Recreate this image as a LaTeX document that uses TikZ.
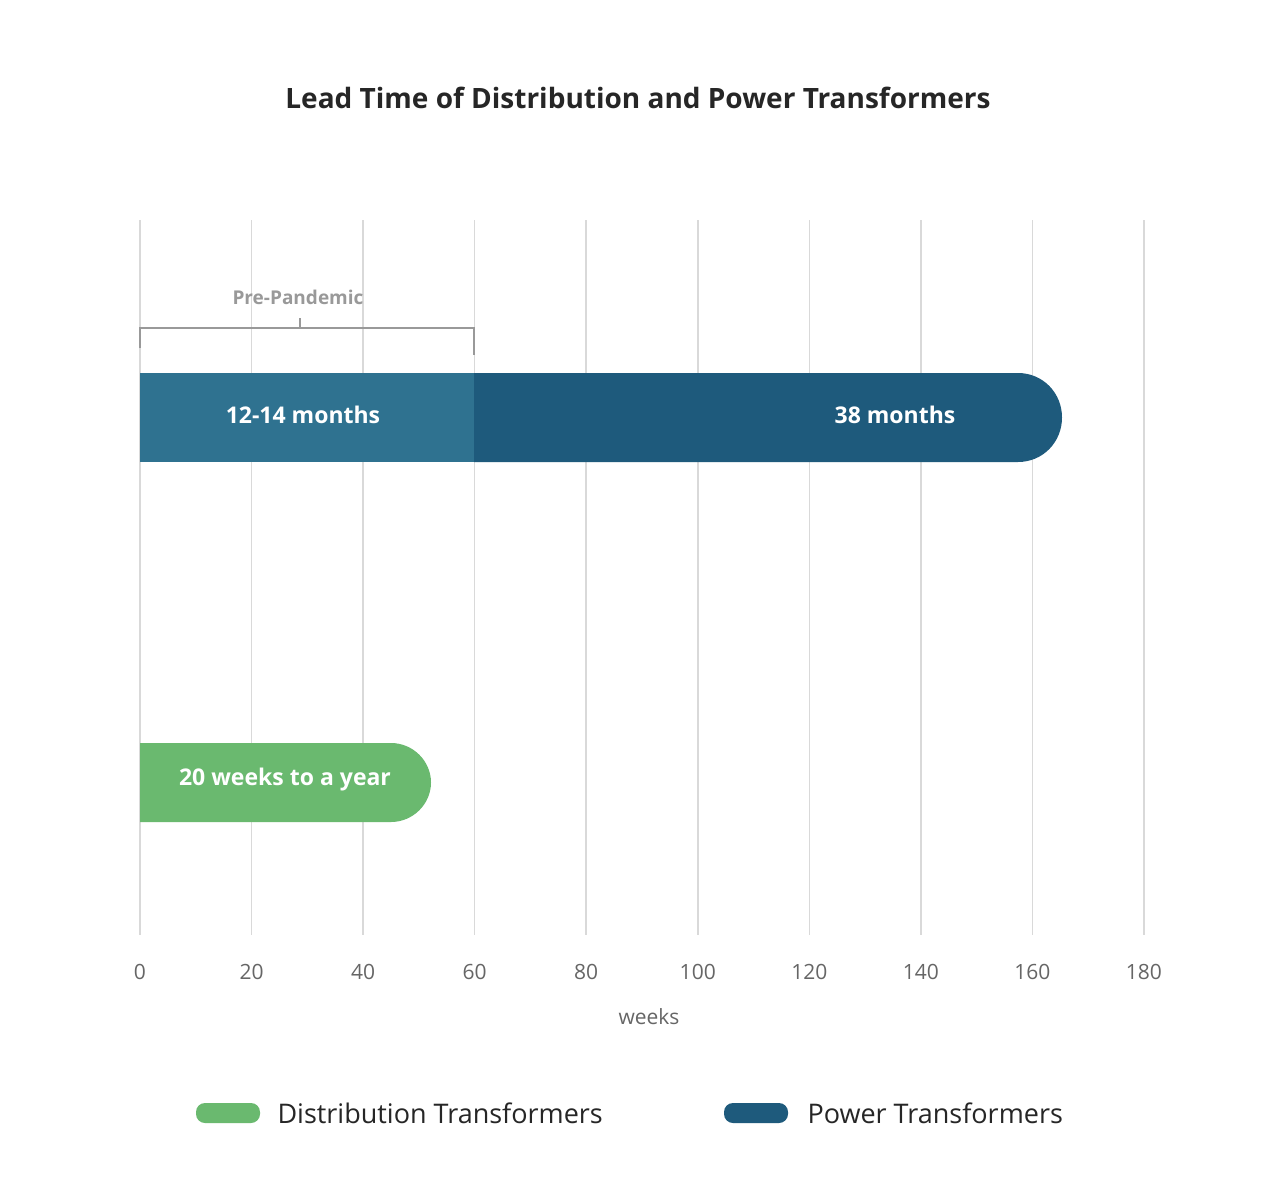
\documentclass[tikz,border=0pt]{standalone}
\usepackage{fontspec}
\setmainfont{Open Sans}
\definecolor{pdark}{HTML}{1E5A7C}
\definecolor{plight}{HTML}{2F7290}
\definecolor{dgreen}{HTML}{6AB96F}
\definecolor{gridc}{HTML}{D9D9D9}
\definecolor{brk}{HTML}{999999}
\definecolor{axt}{HTML}{666666}
\begin{document}
\begin{tikzpicture}[x=1pt,y=-1pt,
  grid/.style={gridc,line width=1.5pt},
  tick/.style={font=\fontsize{21}{24}\selectfont,text=axt},
  barlbl/.style={font=\fontsize{23}{27}\selectfont\bfseries,text=white},
  leg/.style={font=\fontsize{27}{32}\selectfont,text=black!85,anchor=west}]
\fill[white] (0,0) rectangle (1280,1195);
\useasboundingbox (0,0) rectangle (1280,1195);
\node[font=\fontsize{28}{34}\selectfont\bfseries,text=black!85] (title) at (638,98) {Lead Time of Distribution and Power Transformers};
\foreach \v [count=\i from 0] in {0,20,40,60,80,100,120,140,160,180}{
  \draw[grid] ({140+111.55*\i},220) -- ({140+111.55*\i},935);
  \node[tick] (t\i) at ({140+111.55*\i},972) {\v};
}
\node[tick] (wk) at (649,1017) {weeks};
% power bar
\fill[pdark] (474,373) -- (1018,373) .. controls (1043,373) and (1062,393) .. (1062,417.5) .. controls (1062,442) and (1043,462) .. (1018,462) -- (474,462) -- cycle;
\fill[plight] (140,373) rectangle (474,462);
\node[barlbl] (pl1) at (303,415) {12-14 months};
\node[barlbl] (pl2) at (895,415) {38 months};
% green bar
\fill[dgreen] (140,743) -- (391,743) .. controls (413,743) and (431,761) .. (431,782.5) .. controls (431,804) and (413,822) .. (391,822) -- (140,822) -- cycle;
\node[barlbl] (gl) at (285,780) {20 weeks to a year};
% bracket
\draw[brk,line width=1.5pt] (140,348) -- (140,328) -- (474,328) -- (474,355);
\draw[brk,line width=1.5pt] (300,328) -- (300,318);
\node[font=\fontsize{19}{22}\selectfont\bfseries,text=brk] (pp) at (298,297) {Pre-Pandemic};
% legend
\fill[dgreen,rounded corners=9pt] (196,1103) rectangle (260,1123);
\node[leg] (l1) at (274,1113) {Distribution Transformers};
\fill[pdark,rounded corners=9pt] (724,1103) rectangle (788,1123);
\node[leg] (l2) at (804,1113) {Power Transformers};
\end{tikzpicture}
\end{document}
